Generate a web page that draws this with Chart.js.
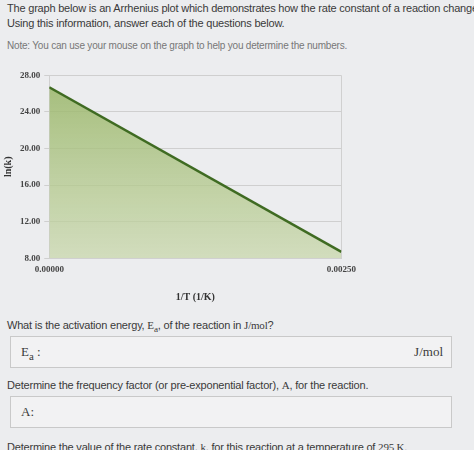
<!DOCTYPE html>
<html><head><meta charset="utf-8">
<script src="https://cdn.jsdelivr.net/npm/chart.js@4"></script>
<style>
body{margin:0;width:474px;height:450px;overflow:hidden;background:#ecedef;font-family:"Liberation Sans",Arial,sans-serif;color:#3a3a3a;position:relative}
.t{position:absolute;left:7px;font-size:11px;line-height:15px;white-space:nowrap;letter-spacing:-0.2px}
.box{position:absolute;left:10px;width:440px;height:30px;border:1px solid #c9c9c9;background:#f2f2f3;font-family:"Liberation Serif",serif;font-size:13px}
#wrap{position:absolute;left:0px;top:66px;width:362px;height:241px}
</style></head><body>
<div class="t" style="top:1px">The graph below is an Arrhenius plot which demonstrates how the rate constant of a reaction changes with temperature.<br>Using this information, answer each of the questions below.</div>
<div class="t" style="top:38px;color:#777;font-size:10px">Note: You can use your mouse on the graph to help you determine the numbers.</div>
<div id="wrap"><canvas id="myChart"></canvas></div>
<div class="t" style="top:318px">What is the activation energy, <span style="font-family:'Liberation Serif',serif">E<sub>a</sub></span>, of the reaction in <span style="font-family:'Liberation Serif',serif">J/mol</span>?</div>
<div class="box" style="top:336px"><span style="position:absolute;left:10px;top:7px">E<sub>a</sub> :</span><span style="position:absolute;right:8px;top:7px">J/mol</span></div>
<div class="t" style="top:378px">Determine the frequency factor (or pre-exponential factor), <span style="font-family:'Liberation Serif',serif">A</span>, for the reaction.</div>
<div class="box" style="top:396px"><span style="position:absolute;left:10px;top:7px">A:</span></div>
<div class="t" style="top:440px">Determine the value of the rate constant, <span style="font-family:'Liberation Serif',serif">k</span>, for this reaction at a temperature of <span style="font-family:'Liberation Serif',serif">295 K</span>.</div>
<script>
const xValues = [0, 0.0025];
const lnK = [26.7, 8.7];
const xTicks = [0, 0.0025];
const yTicks = [8, 12, 16, 20, 24, 28];

const ctx = document.getElementById("myChart").getContext("2d");
const grad = ctx.createLinearGradient(0, 10, 0, 200);
grad.addColorStop(0, "rgba(150,180,100,0.85)");
grad.addColorStop(1, "rgba(200,215,170,0.7)");
new Chart(ctx, {
  type: "line",
  data: {
    datasets: [
      {
        data: xValues.map((x, i) => ({ x: x, y: lnK[i] })),
        borderColor: "#3f6b22",
        borderWidth: 2.5,
        backgroundColor: grad,
        fill: "origin",
        pointRadius: 0,
      },
    ],
  },
  options: {
    responsive: true,
    maintainAspectRatio: false,
    animation: false,
    plugins: { legend: { display: false }, tooltip: { enabled: false } },
    layout: { padding: { right: 16 } },
    scales: {
      x: {
        type: "linear",
        min: 0,
        max: 0.0025,
        afterBuildTicks: (s) => { s.ticks = xTicks.map((v) => ({ value: v })); },
        ticks: { callback: (v) => v.toFixed(5), font: { family: "Liberation Serif", size: 9, weight: "bold" }, color: "#444", maxRotation: 0, padding: 6 },
        grid: { color: "#d0d0d0", drawTicks: false },
        border: { color: "#d0d0d0" },
        title: { display: true, text: "1/T (1/K)", font: { family: "Liberation Serif", size: 10, weight: "bold" }, color: "#333", padding: { top: 10 } },
      },
      y: {
        min: 8,
        max: 28,
        afterBuildTicks: (s) => { s.ticks = yTicks.map((v) => ({ value: v })); },
        ticks: { callback: (v) => v.toFixed(2), font: { family: "Liberation Serif", size: 9, weight: "bold" }, color: "#444", padding: 4 },
        grid: { color: "#cfcfcf", tickLength: 5 },
        border: { color: "#d0d0d0" },
        title: { display: true, text: "ln(k)", font: { family: "Liberation Serif", size: 10, weight: "bold" }, color: "#333", padding: 2 },
      },
    },
  },
});
</script>
</body></html>
